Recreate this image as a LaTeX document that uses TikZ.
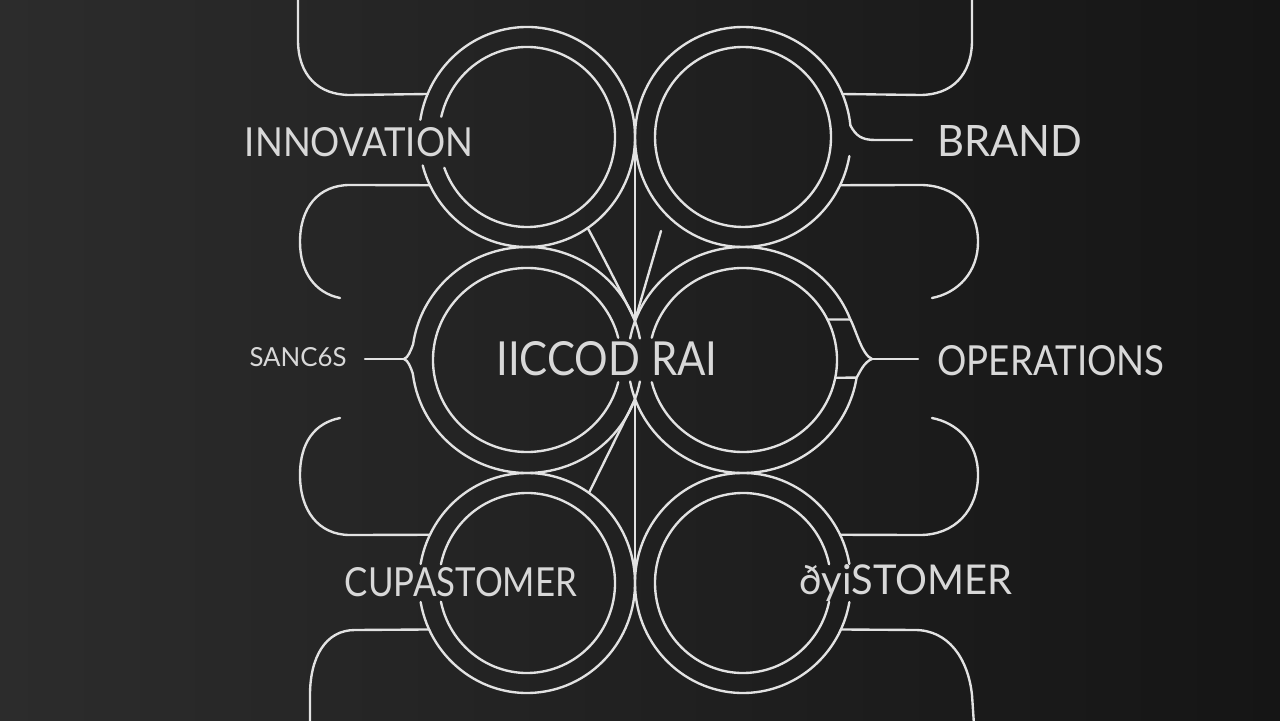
\documentclass[tikz,border=0pt]{standalone}
\usepackage{fontspec}
\setmainfont{Lato}
\usetikzlibrary{calc}
\definecolor{bgA}{HTML}{2C2C2C}
\definecolor{bgB}{HTML}{151515}
\definecolor{linec}{HTML}{E2E2E2}
\definecolor{txtc}{HTML}{D8D8D8}
\newlength\pxu
\setlength\pxu{0.02cm}
\newcommand\fitlbl[3]{\resizebox{#1\pxu}{#2\pxu}{#3}}
\begin{document}
\begin{tikzpicture}[x=0.02cm,y=0.02cm,
  ln/.style={draw=linec,line width=1.35pt,line cap=round,line join=round},
  lbl/.style={text=txtc,inner sep=0pt}]
\useasboundingbox (0,0) rectangle (1280,720);
\shade[left color=bgA,right color=bgB] (0,0) rectangle (1280,720);

% ring centres
\coordinate (TL) at (527,583);
\coordinate (TR) at (743,583);
\coordinate (ML) at (527,360);
\coordinate (MR) at (743,360);
\coordinate (BL) at (527,137);
\coordinate (BR) at (743,137);

% top row rings
\draw[ln] (TL) ++(195:108 and 110) arc[start angle=195,end angle=531,x radius=108,y radius=110];
\draw[ln] (TL) ++(200:88 and 90) arc[start angle=200,end angle=527,x radius=88,y radius=90];
\draw[ln] (TR) ++(6:108 and 110) arc[start angle=6,end angle=350,x radius=108,y radius=110];
\draw[ln] (TR) ellipse[x radius=88,y radius=90];

% middle row rings
\draw[ln] (ML) ++(11:115 and 113) arc[start angle=11,end angle=172,x radius=115,y radius=113];
\draw[ln] (ML) ++(187:115 and 113) arc[start angle=187,end angle=349,x radius=115,y radius=113];
\draw[ln] (ML) ++(14:94 and 92) arc[start angle=14,end angle=346,x radius=94,y radius=92];
\draw[ln] (MR) ++(21:115 and 113) arc[start angle=21,end angle=169,x radius=115,y radius=113];
\draw[ln] (MR) ++(191:115 and 113) arc[start angle=191,end angle=351,x radius=115,y radius=113];
\draw[ln] (MR) ++(194:94 and 92) arc[start angle=194,end angle=526,x radius=94,y radius=92];

% bottom row rings
\draw[ln] (BL) ++(190:108 and 110) arc[start angle=190,end angle=530,x radius=108,y radius=110];
\draw[ln] (BL) ++(192:88 and 90) arc[start angle=192,end angle=528,x radius=88,y radius=90];
\draw[ln] (BR) ++(10:108 and 110) arc[start angle=10,end angle=350,x radius=108,y radius=110];
\draw[ln] (BR) ++(12:88 and 90) arc[start angle=12,end angle=348,x radius=88,y radius=90];

% junction points on the rings
\coordinate (tlA) at ($(TL)+(157:108 and 110)$);
\coordinate (tlB) at ($(TL)+(206:108 and 110)$);
\coordinate (trA) at ($(TR)+(23:108 and 110)$);
\coordinate (trB) at ($(TR)+(-26:108 and 110)$);
\coordinate (trC) at ($(TR)+(6:108 and 110)$);
\coordinate (blA) at ($(BL)+(154:108 and 110)$);
\coordinate (blB) at ($(BL)+(205:108 and 110)$);
\coordinate (brA) at ($(BR)+(26:108 and 110)$);
\coordinate (brB) at ($(BR)+(-25:108 and 110)$);
\coordinate (mlA) at ($(ML)+(172:115 and 113)$);
\coordinate (mlB) at ($(ML)+(187:115 and 113)$);
\coordinate (mrA) at ($(MR)+(21:115 and 113)$);
\coordinate (mrB) at ($(MR)+(-9:115 and 113)$);
\coordinate (mrAi) at (827.4,400.5);
\coordinate (mrBi) at (835.2,342.3);
\coordinate (tlS) at ($(TL)+(-55.8:108 and 110)$);
\coordinate (blS) at ($(BL)+(55:108 and 110)$);

% outer lobes, left
\draw[ln] (298,725) -- (298,680) .. controls (298,645) and (318,625) .. (350,625) -- (tlA);
\draw[ln] (tlB) -- (350,535) .. controls (318,535) and (300,512) .. (300,478) .. controls (300,448) and (315,427) .. (340,422);
\draw[ln] (340,302) .. controls (315,297) and (300,278) .. (300,245) .. controls (300,210) and (318,185) .. (350,185) -- (blA);
\draw[ln] (blB) -- (355,90) .. controls (325,90) and (310,62) .. (310,25) -- (310,-5);
% outer lobes, right
\draw[ln] (972,725) -- (972,680) .. controls (972,645) and (952,625) .. (920,625) -- (trA);
\draw[ln] (trB) -- (920,535) .. controls (955,535) and (978,512) .. (978,478) .. controls (978,448) and (958,427) .. (932,422);
\draw[ln] (932,302) .. controls (957,297) and (978,278) .. (978,245) .. controls (978,210) and (955,185) .. (920,185) -- (brA);
\draw[ln] (brB) -- (915,90) .. controls (948,90) and (968,62) .. (972,25) -- (974,-5);

% centre lines
\coordinate (topT) at (635,583);
\coordinate (apU) at (635,399.5);
\coordinate (apD) at (635,320.5);
\coordinate (botT) at (635,137);
\coordinate (spR) at (661,489);
\draw[ln] (topT) -- (apU);
\draw[ln] (tlS) .. controls (605,460) and (625,420) .. (apU);
\draw[ln] (spR) -- (apU);
\draw[ln] (apD) -- (botT);
\draw[ln] (apD) -- (blS);

% labels
\node[lbl] (innov) at (359,578) {\fitlbl{228}{29}{INNOVATION}};
\node[lbl] (brand) at (1010,579) {\fitlbl{145}{31}{BRAND}};
\node[lbl] (sancgs) at (298,363) {\fitlbl{97}{19}{SANC6S}};
\node[lbl] (core) at (607,361) {\fitlbl{221}{34}{IICCOD RAI}};
\node[lbl] (oper) at (1051,359) {\fitlbl{227}{30}{OPERATIONS}};
\node[lbl] (custA) at (461,138) {\fitlbl{232}{29}{CUPASTOMER}};
\node[lbl] (custB) at (906,137) {\fitlbl{213}{30}{ðyiSTOMER}};

% connectors to labels
\coordinate (bJ) at (875,580);
\coordinate (bE) at (912,580);
\draw[ln] (trC) .. controls (856,584) and (862,580) .. (bJ) -- (bE);
\coordinate (sF) at (404,361);
\coordinate (sE) at (365,361);
\draw[ln] (sE) -- (sF);
\draw[ln] (sF) .. controls (408,362) and (411,370) .. (mlA);
\draw[ln] (sF) .. controls (408,360) and (411,352) .. (mlB);
\coordinate (oF) at (872,361);
\coordinate (oE) at (918,361);
\draw[ln] (oF) -- (oE);
\draw[ln] (oF) .. controls (862,365) and (856,390) .. (mrA) -- (mrAi);
\draw[ln] (oF) .. controls (864,358) and (860,348) .. (mrB) -- (mrBi);
\end{tikzpicture}
\end{document}
